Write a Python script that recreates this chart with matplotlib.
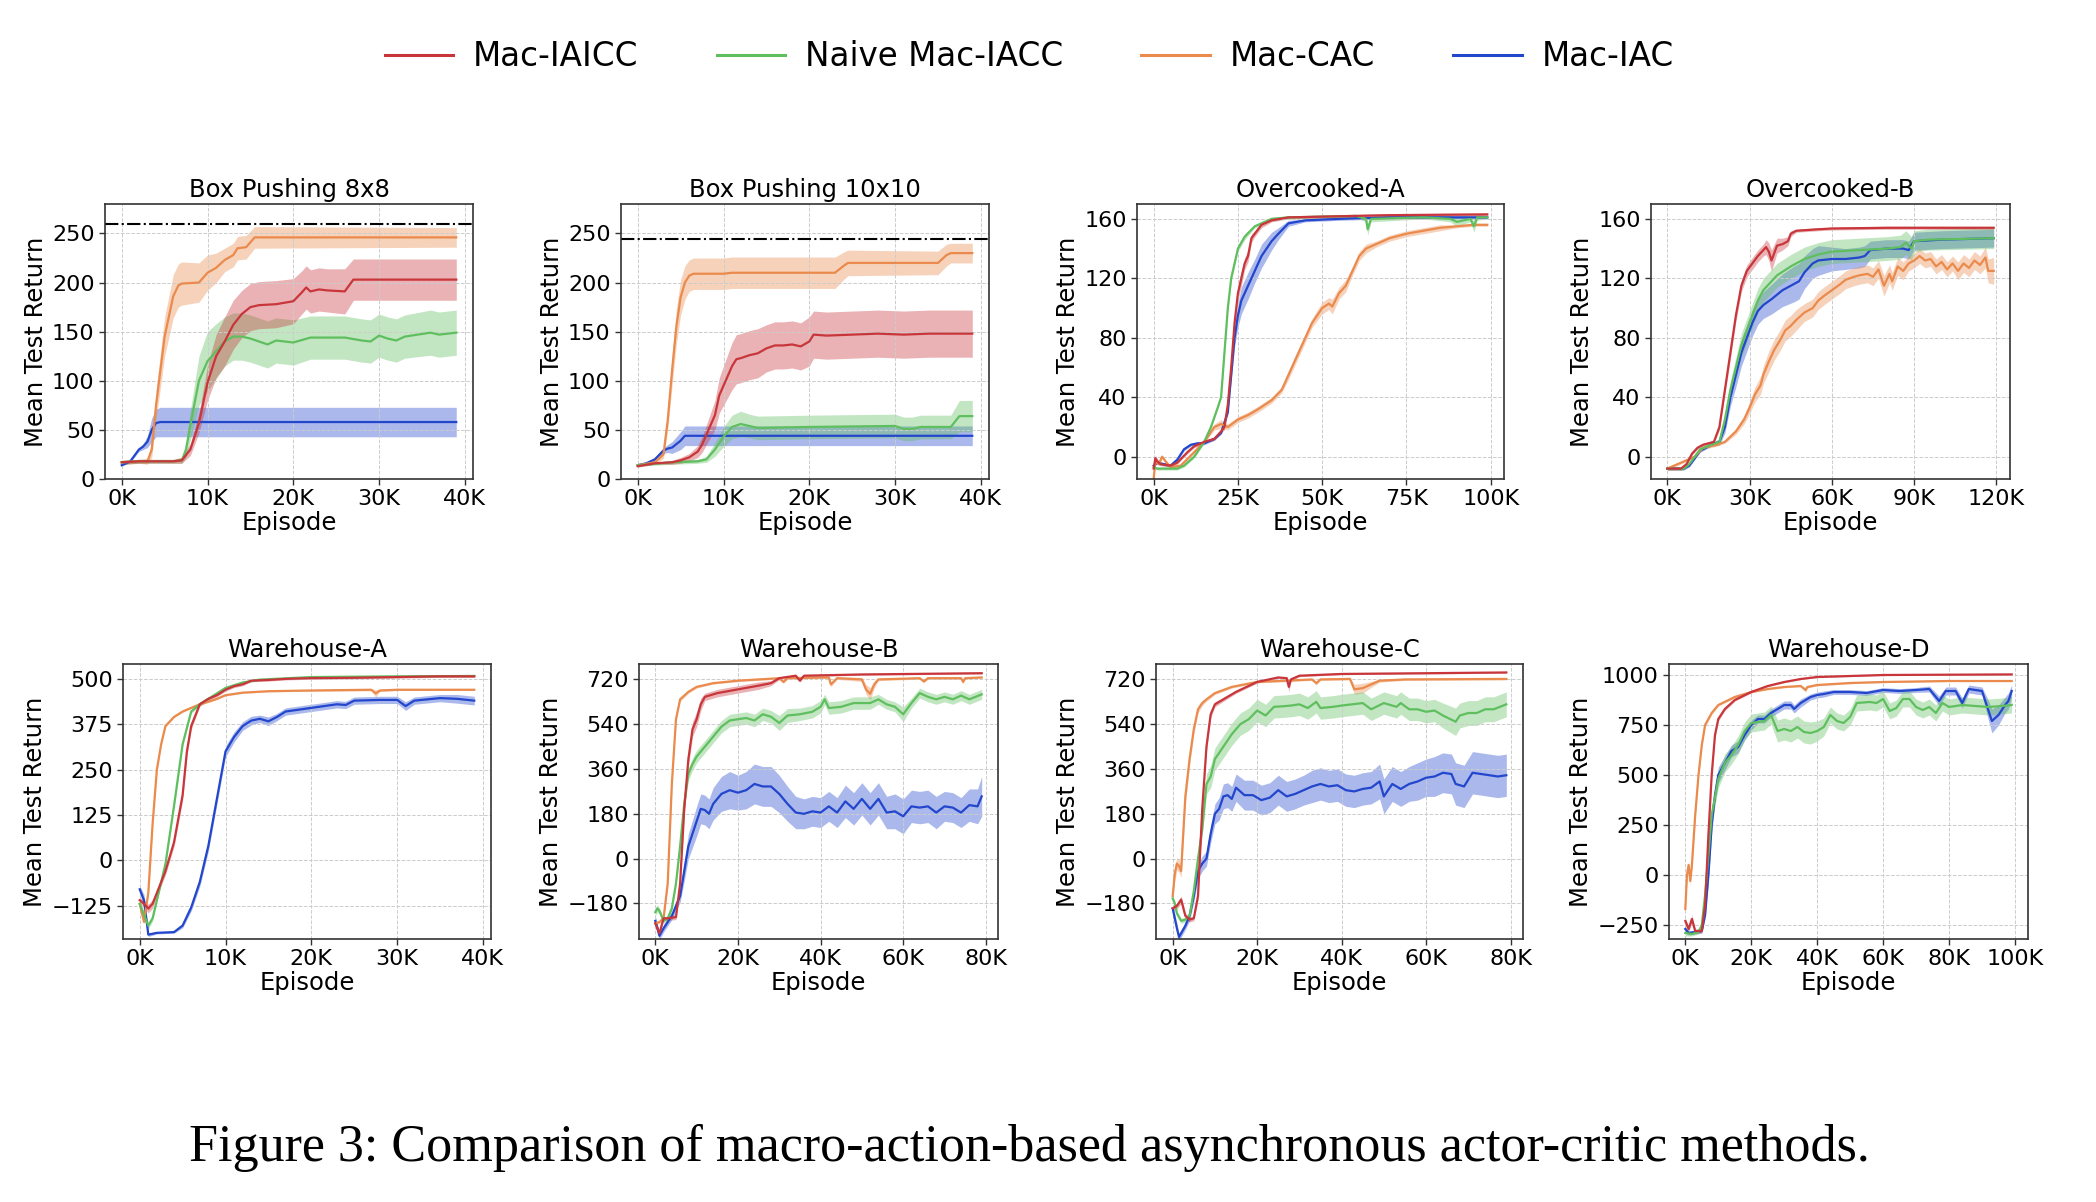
import numpy as np
import matplotlib
matplotlib.use("Agg")
import matplotlib.pyplot as plt
from matplotlib.ticker import FuncFormatter

# ==== Series names and colours ====
series_names = ["Mac-IAICC", "Naive Mac-IACC", "Mac-CAC", "Mac-IAC"]
series_colors = ["#c8363b", "#5fbf5f", "#ea8a4c", "#2246cc"]

# ==== Data: (episode in K, mean return, band half-width) ====
# Box Pushing 8x8
bp8_iaicc = [(0,17,2),(2,18,2),(4,18,2),(6,18,2),(7,19,3),(8,30,6),(9,57,10),(10,98,18),(11,125,22),(12,140,25),
             (13,157,25),(14,168,24),(15,175,24),(16,177,24),(18,178,24),(20,181,23),(21,190,22),(21.5,195,22),
             (22,191,22),(23,193,22),(24,192,22),(26,191,23),(27,203,21),(39,203,21)]
bp8_naive = [(0,17,2),(2,18,2),(4,18,2),(6,18,2),(7,19,3),(7.5,30,8),(8,55,15),(9,100,25),(10,120,30),(11,130,28),
             (12,140,25),(13,145,24),(14,145,24),(15,143,24),(17,137,24),(18,141,23),(20,139,23),(22,144,22),
             (26,144,22),(28,141,22),(29,140,22),(30,146,22),(31,143,22),(32,141,22),(33,145,22),(36,149,23),
             (37,147,23),(39,149,23)]
bp8_cac = [(0,17,2),(2,18,2),(3,18,3),(3.5,30,8),(4,75,15),(5,145,20),(6,186,22),(6.6,197,22),(7,199,22),
           (9,200,20),(10,210,18),(11,215,15),(12,223,12),(13,228,12),(13.5,235,12),(14.5,236,12),(15.5,246,11),
           (39,246,10)]
bp8_iac = [(0,14,1),(1,18,1),(2,30,2),(2.5,33,3),(3,38,6),(3.5,50,12),(4,57,14),(4.5,58,15),(39,58,15)]
bp8_opt = 260

# Box Pushing 10x10
bp10_iaicc = [(0,13,1),(2,16,1),(4,17,2),(5,19,3),(6,22,4),(7,28,6),(7.5,35,8),(8,45,10),(9,65,15),(9.5,85,18),
              (10,95,20),(11,115,24),(11.5,122,25),(12,123,25),(13,126,25),(14,128,25),(15,133,24),(16,136,24),
              (17,136,24),(18,137,24),(19,135,24),(20,140,25),(20.5,147,24),(22,146,24),(25,147,24),(28,148,24),
              (31,147,24),(34,148,24),(39,148,24)]
bp10_naive = [(0,14,1),(4,17,2),(7,18,2),(8,20,3),(9,30,7),(10,43,10),(11,53,12),(12,56,13),(13,54,12),(14,52,12),
              (20,53,12),(30,54,12),(31,51,12),(32,51,12),(33,53,12),(36.5,53,12),(37.5,64,16),(39,64,16)]
bp10_cac = [(0,14,1),(2,17,2),(3,25,4),(3.5,60,10),(4,110,15),(4.5,155,18),(5,185,18),(5.5,200,17),(6,207,16),
            (6.5,209,16),(10,209,16),(11,210,16),(23,210,16),(24,217,14),(24.5,220,13),(35,220,12),(36,228,11),
            (36.5,230,10),(39,230,10)]
bp10_iac = [(0,14,1),(1,16,1),(2,20,2),(3,29,3),(3.5,31,4),(4,32,6),(5,39,9),(5.5,44,10),(39,44,10)]
bp10_opt = 244

# Overcooked-A
oca_iaicc = [(0,-8,2),(0.5,-1,2),(1,-3,2),(2,-5,1),(5,-6,1),(7,-4,1),(10,3,1),(12,7,1),(15,10,1),(18,12,1),
             (20,17,1),(21,20,2),(22,35,3),(23,60,4),(24,90,5),(25,110,5),(26,120,5),(27,130,4),(28,135,4),
             (29,147,3),(30,150,2),(32,156,2),(35,159,1),(40,161,1),(50,161.5,1),(70,162.5,1),(99,163,1)]
oca_naive = [(0,-7,1),(1,-8,1),(7,-8,1),(9,-6,1),(12,0,1),(15,10,1),(17,20,1),(19,33,1),(20,40,1),(21,70,2),
             (22,100,2),(23,120,2),(25,140,2),(27,148,2),(30,155,1),(35,160,1),(40,161,1),(60,162,1),(63,160,2),
             (63.5,153,4),(64.5,160,2),(80,161,1),(88,160,2),(90,158,3),(94,160,2),(95,155,4),(96,161,2),(99,161,1)]
oca_cac = [(0,-15,1),(0.5,-3,1),(1.5,-5,1),(2.5,0,1),(3.5,-3,1),(5,-7,1),(8,-6,1),(12,3,1),(15,10,1),(18,20,2),
           (20,22,3),(22,20,2),(25,25,2),(28,28,2),(31,32,2),(35,38,2),(38,45,2),(40,55,3),(42,65,3),(45,80,3),
           (47,90,3),(50,100,4),(52,103,4),(53,101,5),(55,110,4),(57,115,4),(59,125,3),(61,135,3),(63,140,3),
           (66,143,2),(70,147,2),(75,150,2),(80,152,2),(85,154,2),(90,155,1),(95,156,1),(99,156,1)]
oca_iac = [(0,-6,1),(1,-4,1),(3,-5,1),(5,-6,1),(7,-2,1),(9,5,1),(11,8,1),(13,9,1),(15,9,1),(18,12,1),(20,16,1),
           (22,30,2),(23,55,4),(24,80,6),(25,95,8),(26,105,9),(28,115,9),(30,125,8),(32,135,8),(35,145,6),
           (37,150,4),(40,157,2),(45,159,1),(55,160,1),(70,161,1),(99,161,1)]

# Overcooked-B
ocb_iaicc = [(0,-8,1),(5,-8,1),(7,-5,1),(9,2,1),(11,6,1),(13,8,1),(17,10,1),(19,20,2),(21,45,3),(23,70,4),
             (25,95,4),(27,115,4),(29,125,4),(31,130,4),(33,135,4),(35,139,4),(36,141,5),(37,138,6),(38,132,7),
             (39,137,6),(40,142,5),(42,143,4),(44,145,3),(45,150,2),(47,152,1),(55,153,1),(60,153.5,1),
             (80,154,1),(119,154,1)]
ocb_naive = [(0,-8,1),(6,-8,1),(8,-5,1),(10,0,1),(12,5,1),(16,8,1),(19,10,2),(21,25,4),(23,45,6),(25,60,7),
             (27,75,8),(29,85,8),(31,95,8),(33,105,8),(35,112,8),(38,118,8),(40,122,8),(45,128,8),(50,133,8),
             (55,136,8),(60,138,8),(70,139,8),(80,140,8),(85,141,8),(87,144,8),(89,140,8),(90,145,7),(95,146,7),
             (119,147,7)]
ocb_cac = [(0,-8,1),(10,0,1),(13,6,1),(18,8,1),(21,10,1),(25,17,2),(28,25,3),(30,33,4),(32,42,5),(34,48,6),
           (35,55,6),(37,64,7),(39,72,7),(41,78,7),(43,85,7),(45,88,7),(47,92,7),(50,97,6),(53,100,6),(55,105,6),
           (57,108,6),(60,112,6),(63,116,6),(65,119,6),(68,121,6),(70,122,6),(73,123,6),(75,121,6),(77,126,6),
           (79,115,7),(81,123,6),(82,118,6),(84,128,6),(86,125,6),(88,130,5),(90,132,5),(92,135,5),(94,132,5),
           (96,133,5),(98,128,5),(100,131,5),(102,126,5),(104,130,5),(106,125,6),(108,130,6),(110,127,6),
           (112,132,6),(114,129,6),(116,134,7),(117,125,8),(119,125,9)]
ocb_iac = [(0,-8,1),(6,-8,1),(8,-6,1),(10,-1,1),(12,4,1),(16,8,1),(19,10,2),(21,20,4),(23,40,6),(25,55,8),
           (27,70,9),(29,80,9),(31,90,9),(33,98,9),(35,102,9),(38,106,10),(42,112,11),(46,116,12),(48,118,12),
           (50,124,11),(53,130,10),(55,132,10),(60,133,8),(65,133,7),(70,134,7),(72,135,7),(74,139,6),(80,140,6),
           (86,140,6),(88,139,6),(90,145,6),(100,146,6),(119,147,6)]

# Warehouse-A
wha_iaicc = [(0,-110,8),(0.5,-120,10),(1,-133,12),(1.5,-120,12),(2,-90,10),(3,-30,10),(4,50,12),(5,180,15),
             (5.5,300,12),(6,370,10),(7,430,6),(8,445,5),(9,455,4),(10,470,4),(11,480,4),(12,485,4),(13,495,3),
             (15,497,3),(17,500,3),(20,502,3),(25,503,3),(30,505,3),(35,507,3),(39,507,3)]
wha_naive = [(0,-120,8),(1,-180,10),(1.5,-160,8),(2,-110,6),(3,-10,6),(4,150,6),(5,320,6),(6,410,5),(7,430,4),
             (8,445,3),(9,460,3),(10,475,3),(12,490,3),(14,498,2),(20,505,2),(30,507,2),(39,508,2)]
wha_cac = [(0,-120,5),(0.5,-170,5),(1,-90,5),(1.5,100,5),(2,250,4),(2.5,320,3),(3,370,3),(4,395,2),(5,410,2),
           (6,420,2),(7,430,2),(8,437,2),(9,445,2),(10,455,2),(12,462,2),(15,466,2),(20,468,2),(27,470,3),
           (27.5,460,10),(28,468,3),(30,470,2),(39,470,2)]
wha_iac = [(0,-80,10),(0.5,-110,15),(1,-205,5),(2,-200,3),(4,-198,3),(5,-180,6),(6,-130,10),(7,-60,12),
           (8,40,15),(9,170,15),(10,300,15),(11,340,14),(12,370,12),(13,385,12),(14,390,10),(15,383,12),
           (16,395,10),(17,410,10),(20,420,10),(23,430,10),(24,428,10),(25,440,10),(28,442,10),(30,442,10),
           (31,425,12),(32,440,10),(35,447,10),(37,445,12),(39,440,12)]

# Warehouse-B
whb_iaicc = [(0,-260,10),(1,-300,10),(2,-240,8),(3,-240,8),(5,-235,10),(6,-100,15),(7,200,25),(8,400,30),
             (9,520,30),(10,560,30),(11,620,25),(12,650,15),(15,665,15),(20,680,15),(25,695,15),(28,705,10),
             (30,725,6),(34,735,4),(35,715,6),(36,735,4),(50,740,3),(79,745,3)]
whb_naive = [(0,-215,15),(0.5,-200,15),(1,-210,12),(2,-250,10),(3,-240,10),(4,-200,10),(5,-100,12),(6,50,20),
             (7,220,25),(8,340,25),(9,380,25),(10,410,25),(12,450,25),(14,490,25),(16,530,25),(18,555,25),
             (20,560,25),(22,565,25),(24,555,25),(26,580,25),(28,570,25),(30,545,30),(32,575,28),(35,580,25),
             (38,590,25),(40,610,25),(41,640,20),(42,605,25),(45,610,25),(48,625,25),(50,625,25),(52,625,25),
             (54,640,20),(56,620,20),(58,610,20),(60,580,30),(62,625,20),(64,665,20),(66,650,20),(68,640,20),
             (70,650,20),(72,640,20),(74,655,20),(76,640,20),(79,660,20)]
whb_cac = [(0,-260,5),(1,-255,5),(2,-240,5),(3,-100,10),(4,300,15),(5,560,10),(6,640,8),(8,670,6),(10,690,5),
           (14,705,4),(20,715,4),(30,725,4),(31,710,6),(32,725,4),(42,728,4),(42.5,700,10),(44,725,5),
           (50,720,8),(51,680,20),(52,662,25),(53,700,15),(54,720,5),(64,725,4),(65,712,6),(66,725,4),
           (74,725,4),(74.5,710,6),(75,725,4),(79,728,4)]
whb_iac = [(0,-250,20),(1,-310,15),(2,-280,15),(4,-230,15),(6,-150,25),(7,-50,40),(8,50,50),(9,100,55),
           (10,150,60),(11,200,60),(12,195,60),(13,180,60),(14,220,65),(16,260,70),(18,275,75),(20,265,70),
           (22,275,75),(24,300,80),(26,290,80),(28,290,80),(30,260,75),(32,220,70),(34,185,65),(36,180,60),
           (38,190,60),(40,185,60),(42,210,60),(44,185,60),(46,230,65),(48,200,65),(50,240,65),(52,200,65),
           (54,240,65),(56,185,65),(58,190,70),(60,170,70),(62,210,65),(64,205,65),(66,210,65),(68,185,65),
           (70,210,60),(72,205,60),(74,185,60),(76,215,65),(78,210,70),(79,250,80)]

# Warehouse-C
whc_iaicc = [(0,-200,10),(1,-190,12),(2,-165,15),(3,-230,12),(4,-245,10),(5,-240,10),(6,-150,15),(7,200,20),
             (8,450,20),(9,580,15),(10,620,10),(12,640,8),(15,670,6),(20,710,5),(25,728,4),(27,725,5),
             (27.5,690,20),(28,720,8),(30,735,4),(40,742,3),(60,745,3),(79,748,3)]
whc_naive = [(0,-160,10),(0.5,-180,10),(1,-220,10),(2,-250,10),(3,-245,10),(4,-230,10),(5,-130,15),(6,0,25),
             (7,120,30),(8,300,40),(9,330,45),(10,400,45),(12,450,45),(14,500,45),(16,540,45),(18,560,45),
             (20,595,45),(22,575,45),(24,610,45),(26,612,45),(28,615,45),(30,620,45),(32,605,45),(34,630,45),
             (35,605,45),(38,610,45),(40,615,45),(45,625,45),(47,600,45),(50,625,45),(53,610,45),(54,625,45),
             (56,600,45),(58,600,45),(60,590,45),(62,595,45),(64,575,50),(67,550,55),(68,575,50),(70,585,50),
             (72,585,50),(74,600,50),(76,600,50),(79,620,50)]
whc_cac = [(0,-150,20),(0.5,-60,30),(1,-20,25),(1.5,-30,25),(2,-50,25),(2.5,100,30),(3,250,30),(4,400,25),
           (5,520,20),(6,600,15),(7,625,10),(8,640,8),(10,665,6),(14,690,5),(20,710,4),(27,715,4),(33,720,4),
           (34,705,8),(35,720,4),(42,722,4),(43,680,20),(45,685,20),(47,700,12),(49,715,6),(55,720,4),(79,722,4)]
whc_iac = [(0,-200,15),(1,-280,20),(1.5,-315,15),(2,-300,15),(3,-270,15),(4,-230,20),(5,-150,25),(6,-50,30),
           (7,-20,30),(8,0,30),(9,100,35),(10,180,40),(11,200,45),(12,250,50),(13,255,50),(14,240,50),
           (15,285,55),(17,255,60),(19,255,60),(21,235,60),(23,245,60),(25,275,60),(27,250,60),(29,260,60),
           (31,275,60),(33,290,65),(35,300,65),(37,290,65),(39,295,65),(41,275,65),(43,270,65),(45,280,65),
           (47,285,65),(49,310,70),(50,250,70),(52,300,70),(54,280,70),(56,300,70),(58,310,75),(60,325,75),
           (62,330,80),(64,345,80),(66,340,80),(67,300,85),(69,290,85),(71,345,85),(73,340,85),(75,335,85),
           (77,330,85),(79,335,85)]

# Warehouse-D
whd_iaicc = [(0,-230,15),(1,-270,15),(2,-220,20),(3,-280,10),(5,-280,10),(6,-150,15),(7,200,20),(8,500,20),
             (9,700,15),(10,780,10),(12,830,8),(15,875,6),(20,915,5),(25,945,4),(30,965,4),(35,980,3),
             (40,990,3),(50,995,3),(60,1000,3),(99,1003,3)]
whd_naive = [(0,-290,15),(2,-295,10),(4,-285,10),(5,-250,15),(6,-100,25),(7,100,35),(8,300,40),(10,480,45),
             (12,560,45),(14,600,45),(16,650,45),(18,720,45),(20,760,45),(22,765,45),(24,770,45),(26,800,45),
             (28,720,55),(30,730,55),(32,720,55),(34,740,55),(36,715,55),(38,710,55),(40,720,50),(42,740,45),
             (44,800,40),(46,770,40),(48,760,40),(50,790,40),(52,860,40),(56,865,40),(58,860,40),(60,880,40),
             (62,820,40),(64,835,40),(66,880,40),(68,880,40),(70,840,40),(72,825,40),(74,840,40),(76,810,40),
             (78,860,40),(80,840,40),(84,850,40),(88,845,40),(92,840,40),(96,845,40),(99,850,40)]
whd_cac = [(0,-170,10),(0.5,0,20),(1,50,20),(1.5,-30,20),(2,50,20),(3,300,20),(4,500,15),(5,650,12),(6,750,10),
           (8,810,8),(10,850,6),(15,890,5),(20,915,4),(25,930,4),(30,940,4),(35,945,4),(36.5,925,12),(37,940,5),
           (40,950,4),(50,960,4),(60,965,3),(80,970,3),(99,970,3)]
whd_iac = [(0,-270,15),(1,-290,10),(3,-285,10),(5,-280,10),(6,-200,15),(7,0,30),(8,250,40),(9,400,40),
           (10,500,40),(12,560,35),(14,620,30),(16,640,30),(18,700,25),(20,750,25),(22,780,20),(24,780,20),
           (26,810,20),(28,830,20),(30,850,20),(32,850,20),(33,830,20),(35,860,20),(38,890,15),(40,900,15),
           (42,905,15),(45,915,12),(50,915,12),(55,910,12),(60,925,12),(65,920,12),(70,925,12),(74,930,15),
           (77,870,25),(79,920,20),(82,920,20),(84,860,25),(86,930,20),(90,920,20),(92,820,50),(93,770,60),
           (95,800,50),(97,850,40),(98,870,40),(99,920,30)]

# ==== Panel setup ====
panels = [
    dict(title="Box Pushing 8x8", data=[bp8_iaicc, bp8_naive, bp8_cac, bp8_iac], opt=bp8_opt,
         ylim=(0, 280), yticks=[0, 50, 100, 150, 200, 250], xticks=[0, 10, 20, 30, 40],
         pos=[105, 204, 368, 275]),
    dict(title="Box Pushing 10x10", data=[bp10_iaicc, bp10_naive, bp10_cac, bp10_iac], opt=bp10_opt,
         ylim=(0, 280), yticks=[0, 50, 100, 150, 200, 250], xticks=[0, 10, 20, 30, 40],
         pos=[621, 204, 368, 275]),
    dict(title="Overcooked-A", data=[oca_iaicc, oca_naive, oca_cac, oca_iac], opt=None,
         ylim=(-15, 170), yticks=[0, 40, 80, 120, 160], xticks=[0, 25, 50, 75, 100],
         pos=[1137, 204, 367, 275]),
    dict(title="Overcooked-B", data=[ocb_iaicc, ocb_naive, ocb_cac, ocb_iac], opt=None,
         ylim=(-15, 170), yticks=[0, 40, 80, 120, 160], xticks=[0, 30, 60, 90, 120],
         pos=[1651, 204, 359, 275]),
    dict(title="Warehouse-A", data=[wha_iaicc, wha_naive, wha_cac, wha_iac], opt=None,
         ylim=(-217, 541), yticks=[-125, 0, 125, 250, 375, 500], xticks=[0, 10, 20, 30, 40],
         pos=[123, 664, 368, 275]),
    dict(title="Warehouse-B", data=[whb_iaicc, whb_naive, whb_cac, whb_iac], opt=None,
         ylim=(-323, 782), yticks=[-180, 0, 180, 360, 540, 720], xticks=[0, 20, 40, 60, 80],
         pos=[639, 664, 359, 275]),
    dict(title="Warehouse-C", data=[whc_iaicc, whc_naive, whc_cac, whc_iac], opt=None,
         ylim=(-323, 782), yticks=[-180, 0, 180, 360, 540, 720], xticks=[0, 20, 40, 60, 80],
         pos=[1156, 664, 367, 275]),
    dict(title="Warehouse-D", data=[whd_iaicc, whd_naive, whd_cac, whd_iac], opt=None,
         ylim=(-320, 1055), yticks=[-250, 0, 250, 500, 750, 1000], xticks=[0, 20, 40, 60, 80, 100],
         pos=[1669, 664, 359, 275]),
]

W, H = 2096, 1202
fig = plt.figure(figsize=(W / 100, H / 100), dpi=100)

draw_order = [3, 2, 1, 0]  # blue first, red on top
handles = [None] * 4

for p in panels:
    l, t, w, h = p["pos"]
    ax = fig.add_axes([l / W, 1 - (t + h) / H, w / W, h / H])
    xmax = 0
    for k in draw_order:
        arr = np.array(p["data"][k], dtype=float)
        x, y, s = arr[:, 0], arr[:, 1], arr[:, 2]
        xmax = max(xmax, x.max())
        ax.fill_between(x, y - s, y + s, color=series_colors[k], alpha=0.38, lw=0)
        ln, = ax.plot(x, y, color=series_colors[k], lw=1.6, label=series_names[k])
        handles[k] = ln
    if p["opt"] is not None:
        ax.axhline(p["opt"], color="black", ls="-.", lw=1.5)
    ax.set_xlim(-0.05 * xmax, 1.05 * xmax)
    ax.set_ylim(*p["ylim"])
    ax.set_xticks(p["xticks"])
    ax.set_yticks(p["yticks"])
    ax.xaxis.set_major_formatter(FuncFormatter(lambda v, pos: f"{int(round(v))}K"))
    ax.tick_params(labelsize=16, length=4, width=1, color="#333333")
    ax.grid(True, ls="--", lw=0.7, color="#cccccc")
    for sp in ax.spines.values():
        sp.set_color("#333333")
        sp.set_linewidth(1.2)
    ax.set_title(p["title"], fontsize=17.5, pad=5)
    ax.set_xlabel("Episode", fontsize=17.5, labelpad=1)
    ax.set_ylabel("Mean Test Return", fontsize=17.5, labelpad=3)

leg = fig.legend(handles, series_names, loc="center", bbox_to_anchor=(0.491, 0.953), ncol=4,
                 frameon=False, fontsize=23.5, handlelength=2.1, handletextpad=0.6, columnspacing=2.4)
for lh in leg.get_lines():
    lh.set_linewidth(2.2)

fig.text(0.491, 0.045, "Figure 3: Comparison of macro-action-based asynchronous actor-critic methods.",
         ha="center", va="center", fontsize=37.5, family="Liberation Serif")

fig.savefig("out.png", dpi=100)
